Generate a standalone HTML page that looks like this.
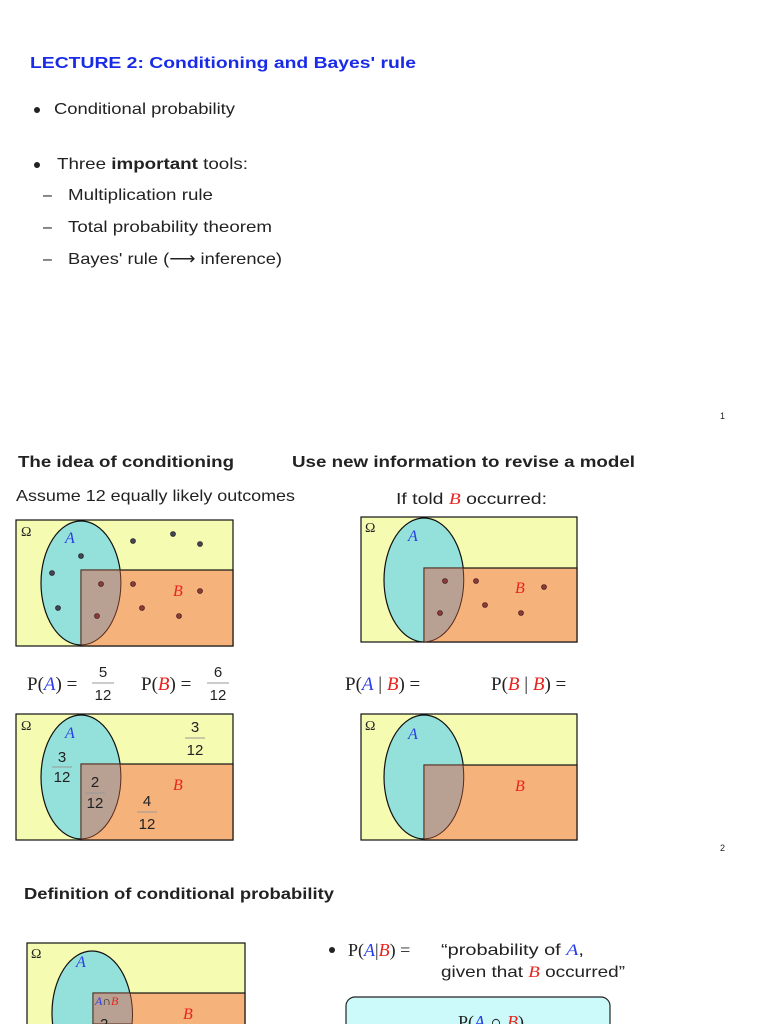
<!DOCTYPE html>
<html><head><meta charset="utf-8"><style>
html,body{margin:0;padding:0;background:#fff;width:768px;height:1024px;overflow:hidden}
svg{display:block}
text{font-family:"Liberation Sans",sans-serif;fill:#222}
.m{font-family:"Liberation Serif",serif;}
.A{fill:#2a3ee8;font-style:italic;font-family:"Liberation Serif",serif}
.B{fill:#e8231e;font-style:italic;font-family:"Liberation Serif",serif}
.f{font-size:15px;text-anchor:middle}
</style></head><body>
<svg width="768" height="1024" viewBox="0 0 768 1024" xmlns="http://www.w3.org/2000/svg">
<!-- Slide 1 -->
<text x="30" y="68" font-size="16" font-weight="bold" style="fill:#1a2be8" textLength="386" lengthAdjust="spacingAndGlyphs">LECTURE 2: Conditioning and Bayes' rule</text>
<circle cx="37" cy="110" r="3" fill="#222"/>
<text x="54" y="114" font-size="16" textLength="181" lengthAdjust="spacingAndGlyphs">Conditional probability</text>
<circle cx="37" cy="165" r="3" fill="#222"/>
<text x="57" y="169" font-size="16" textLength="191" lengthAdjust="spacingAndGlyphs">Three <tspan font-weight="bold">important</tspan> tools:</text>
<text x="43" y="200" font-size="16">–</text><text x="68" y="200" font-size="16" textLength="145" lengthAdjust="spacingAndGlyphs">Multiplication rule</text>
<text x="43" y="232" font-size="16">–</text><text x="68" y="232" font-size="16" textLength="204" lengthAdjust="spacingAndGlyphs">Total probability theorem</text>
<text x="43" y="264" font-size="16">–</text><text x="68" y="264" font-size="16" textLength="214" lengthAdjust="spacingAndGlyphs">Bayes' rule (⟶ inference)</text>
<text x="720" y="419" font-size="9">1</text>

<!-- Slide 2 -->
<text x="18" y="467" font-size="16" font-weight="bold" textLength="216" lengthAdjust="spacingAndGlyphs">The idea of conditioning</text>
<text x="292" y="467" font-size="16" font-weight="bold" textLength="343" lengthAdjust="spacingAndGlyphs">Use new information to revise a model</text>
<text x="16" y="501" font-size="16" textLength="279" lengthAdjust="spacingAndGlyphs">Assume 12 equally likely outcomes</text>
<text x="396" y="504" font-size="16" textLength="151" lengthAdjust="spacingAndGlyphs">If told <tspan class="B">B</tspan> occurred:</text>

<!-- diagram TL -->
<rect x="16" y="520" width="217" height="126" fill="#f6fbb2" stroke="#111" stroke-width="1.2"/>
<ellipse cx="81" cy="583" rx="40" ry="62" fill="#93e1da" stroke="#111" stroke-width="1.2"/>
<rect x="81" y="570" width="152" height="76" fill="#f6b27b" stroke="#111" stroke-width="1.2"/>
<path d="M81 570 L120 570 A40 62 0 0 1 81 645 Z" fill="#b8a092" stroke="#5a2a1a" stroke-width="1"/>
<text x="21" y="536" font-size="14" class="m">Ω</text>
<text x="65" y="543" font-size="16" class="A">A</text>
<text x="173" y="596" font-size="16" class="B">B</text>
<g fill="#445" stroke="#111" stroke-width="0.6">
<circle cx="133" cy="541" r="2.5"/><circle cx="173" cy="534" r="2.5"/><circle cx="200" cy="544" r="2.5"/><circle cx="81" cy="556" r="2.5"/><circle cx="52" cy="573" r="2.5"/><circle cx="58" cy="608" r="2.5"/>
</g>
<g fill="#8a3a3a" stroke="#311" stroke-width="0.6">
<circle cx="101" cy="584" r="2.5"/><circle cx="133" cy="584" r="2.5"/><circle cx="200" cy="591" r="2.5"/><circle cx="142" cy="608" r="2.5"/><circle cx="97" cy="616" r="2.5"/><circle cx="179" cy="616" r="2.5"/>
</g>

<!-- diagram TR -->
<rect x="361" y="517" width="216" height="125" fill="#f6fbb2" stroke="#111" stroke-width="1.2"/>
<ellipse cx="424" cy="580" rx="40" ry="62" fill="#93e1da" stroke="#111" stroke-width="1.2"/>
<rect x="424" y="568" width="153" height="74" fill="#f6b27b" stroke="#111" stroke-width="1.2"/>
<path d="M424 568 L463 568 A40 62 0 0 1 424 642 Z" fill="#b8a092" stroke="#5a2a1a" stroke-width="1"/>
<text x="365" y="532" font-size="14" class="m">Ω</text>
<text x="408" y="541" font-size="16" class="A">A</text>
<text x="515" y="593" font-size="16" class="B">B</text>
<g fill="#8a3a3a" stroke="#311" stroke-width="0.6">
<circle cx="445" cy="581" r="2.5"/><circle cx="476" cy="581" r="2.5"/><circle cx="544" cy="587" r="2.5"/><circle cx="485" cy="605" r="2.5"/><circle cx="440" cy="613" r="2.5"/><circle cx="521" cy="613" r="2.5"/>
</g>

<!-- formulas -->
<text x="27" y="690" font-size="19" class="m">P(<tspan class="A">A</tspan>) =</text>
<text x="103" y="677" class="f">5</text><line x1="92" y1="683" x2="114" y2="683" stroke="#999"/><text x="103" y="700" class="f">12</text>
<text x="141" y="690" font-size="19" class="m">P(<tspan class="B">B</tspan>) =</text>
<text x="218" y="677" class="f">6</text><line x1="207" y1="683" x2="229" y2="683" stroke="#999"/><text x="218" y="700" class="f">12</text>
<text x="345" y="690" font-size="19" class="m">P(<tspan class="A">A</tspan> | <tspan class="B">B</tspan>) =</text>
<text x="491" y="690" font-size="19" class="m">P(<tspan class="B">B</tspan> | <tspan class="B">B</tspan>) =</text>

<!-- diagram BL -->
<rect x="16" y="714" width="217" height="126" fill="#f6fbb2" stroke="#111" stroke-width="1.2"/>
<ellipse cx="81" cy="777" rx="40" ry="62" fill="#93e1da" stroke="#111" stroke-width="1.2"/>
<rect x="81" y="764" width="152" height="76" fill="#f6b27b" stroke="#111" stroke-width="1.2"/>
<path d="M81 764 L120 764 A40 62 0 0 1 81 839 Z" fill="#b8a092" stroke="#5a2a1a" stroke-width="1"/>
<text x="21" y="730" font-size="14" class="m">Ω</text>
<text x="65" y="738" font-size="16" class="A">A</text>
<text x="173" y="790" font-size="16" class="B">B</text>
<text x="195" y="732" class="f">3</text><line x1="185" y1="738" x2="205" y2="738" stroke="#999"/><text x="195" y="755" class="f">12</text>
<text x="62" y="762" class="f">3</text><line x1="52" y1="767" x2="72" y2="767" stroke="#999"/><text x="62" y="782" class="f">12</text>
<text x="95" y="787" class="f">2</text><line x1="85" y1="793" x2="105" y2="793" stroke="#999"/><text x="95" y="808" class="f">12</text>
<text x="147" y="806" class="f">4</text><line x1="137" y1="812" x2="157" y2="812" stroke="#999"/><text x="147" y="829" class="f">12</text>

<!-- diagram BR -->
<rect x="361" y="714" width="216" height="126" fill="#f6fbb2" stroke="#111" stroke-width="1.2"/>
<ellipse cx="424" cy="777" rx="40" ry="62" fill="#93e1da" stroke="#111" stroke-width="1.2"/>
<rect x="424" y="765" width="153" height="75" fill="#f6b27b" stroke="#111" stroke-width="1.2"/>
<path d="M424 765 L463 765 A40 62 0 0 1 424 839 Z" fill="#b8a092" stroke="#5a2a1a" stroke-width="1"/>
<text x="365" y="730" font-size="14" class="m">Ω</text>
<text x="408" y="739" font-size="16" class="A">A</text>
<text x="515" y="791" font-size="16" class="B">B</text>
<text x="720" y="851" font-size="9">2</text>

<!-- Slide 3 -->
<text x="24" y="899" font-size="16" font-weight="bold" textLength="310" lengthAdjust="spacingAndGlyphs">Definition of conditional probability</text>
<rect x="27" y="943" width="218" height="95" fill="#f6fbb2" stroke="#111" stroke-width="1.2"/>
<ellipse cx="92" cy="1013" rx="40" ry="62" fill="#93e1da" stroke="#111" stroke-width="1.2"/>
<rect x="93" y="993" width="152" height="50" fill="#f6b27b" stroke="#111" stroke-width="1.2"/>
<path d="M93 993 L130 993 A40 62 0 0 1 132 1024 L93 1024 Z" fill="#b8a092" stroke="#5a2a1a" stroke-width="1"/>
<text x="31" y="958" font-size="14" class="m">Ω</text>
<text x="76" y="967" font-size="16" class="A">A</text>
<text x="95" y="1005" font-size="12" class="m"><tspan class="A">A</tspan>∩<tspan class="B">B</tspan></text>
<text x="100" y="1029" font-size="15">2</text>
<text x="183" y="1019" font-size="16" class="B">B</text>
<circle cx="332" cy="950" r="3" fill="#222"/>
<text x="348" y="956" font-size="18" class="m">P(<tspan class="A">A</tspan>|<tspan class="B">B</tspan>) =</text>
<text x="441" y="955" font-size="16" textLength="143" lengthAdjust="spacingAndGlyphs">“probability of <tspan class="A">A</tspan>,</text>
<text x="441" y="977" font-size="16" textLength="184" lengthAdjust="spacingAndGlyphs">given that <tspan class="B">B</tspan> occurred”</text>
<rect x="346" y="997" width="264" height="50" rx="9" fill="#ccfafa" stroke="#222" stroke-width="1.2"/>
<text x="458" y="1028" font-size="18" class="m">P(<tspan class="A">A</tspan> ∩ <tspan class="B">B</tspan>)</text>
</svg>
</body></html>
